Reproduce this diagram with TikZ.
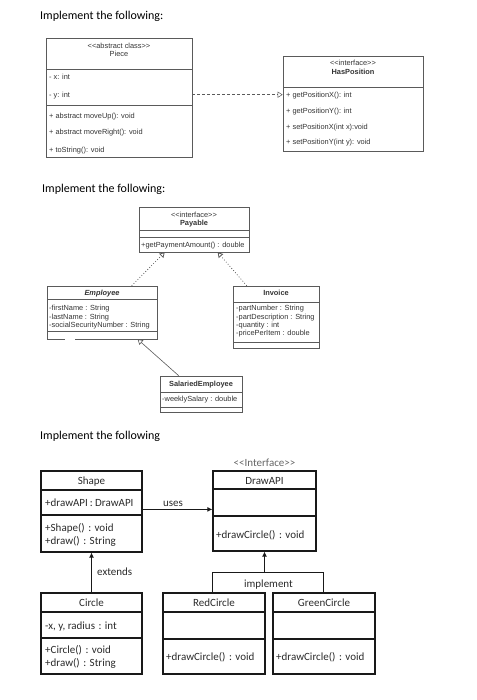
\documentclass[tikz,border=0pt]{standalone}
\usepackage{fontspec}
\setmainfont{Carlito}
\newfontfamily\arialf{Liberation Sans}
\usetikzlibrary{arrows.meta,fit}
\definecolor{gline}{HTML}{5A5A5A}
\definecolor{gtext}{HTML}{333333}
\definecolor{ctext}{HTML}{2A2A2A}
\newcommand\stL{<\kern0pt<}
\newcommand\stR{>\kern0pt>}
\tikzset{
  head/.style={font=\fontsize{12}{14}\selectfont, inner sep=0, anchor=base west, text=black},
  boxA/.style={draw=gline, line width=0.6pt, inner sep=0},
  divA/.style={draw=gline, line width=0.6pt},
  tA/.style={font=\arialf\fontsize{7.4}{8.5}\selectfont, text=gtext, inner sep=0, anchor=base west},
  tAc/.style={tA, anchor=base},
  tAb/.style={tA, anchor=base, font=\arialf\bfseries\fontsize{7.4}{8.5}\selectfont},
  boxC/.style={draw=black!90, line width=1.2pt, inner sep=0},
  divC/.style={draw=black!90, line width=1.2pt},
  tC/.style={font=\fontsize{11}{13}\selectfont, text=ctext, inner sep=0, anchor=base west},
  tCc/.style={tC, anchor=base},
  openarrow/.style={-{Triangle[open, length=5pt, width=6pt]}},
  fillarrow/.style={-{Latex[length=5pt, width=5pt]}}
}
\begin{document}
\begin{tikzpicture}[x=1pt,y=-1pt]
\useasboundingbox (0,0) rectangle (476,700);

% ================= Section 1 =================
\node[head] (h1) at (40,20) {Implement the following:};

\node[boxA, fit={(46,38) (192,157)}] (piece) {};
\draw[divA] (46,69) -- (192,69);
\draw[divA] (46,105) -- (192,105);
\node[tAc] (pst) at (119,48.5) {\stL abstract class\stR};
\node[tAc] (pname) at (119,57) {Piece};
\node[tA] (pa1) at (49,79.5) {- x: int};
\node[tA] (pa2) at (49,97.5) {- y: int};
\node[tA] (pm1) at (49,118.5) {+ abstract moveUp(): void};
\node[tA] (pm2) at (49,134.5) {+ abstract moveRight(): void};
\node[tA] (pm3) at (49,152.5) {+ toString(): void};

\node[boxA, fit={(283,56) (423,151)}] (haspos) {};
\draw[divA] (283,87) -- (423,87);
\node[tAc] (hst) at (353,65.5) {\stL interface\stR};
\node[tAb] (hname) at (353,74.5) {HasPosition};
\node[tA] (hm1) at (286,97.5) {+ getPositionX(): int};
\node[tA] (hm2) at (286,113.5) {+ getPositionY(): int};
\node[tA] (hm3) at (286,129.5) {+ setPositionX(int x):void};
\node[tA] (hm4) at (286,144.5) {+ setPositionY(int y): void};

\draw[gline, line width=0.5pt, densely dashed, openarrow]
  ([yshift=-57pt]piece.north east) -- ([yshift=-39pt]haspos.north west);

% ================= Section 2 =================
\node[head] (h2) at (42,193) {Implement the following:};

\node[boxA, fit={(139,207) (249,252)}] (payable) {};
\draw[divA] (139,230) -- (249,230);
\draw[divA] (139,237) -- (249,237);
\node[tAc] (pyst) at (194,217.5) {\stL interface\stR};
\node[tAb] (pyname) at (194,225.5) {Payable};
\node[tA] (pym) at (141,247.5) {+getPaymentAmount() : double};

\node[boxA, fit={(47,286) (157,339)}] (employee) {};
\draw[divA] (47,299) -- (157,299);
\draw[divA] (47,331) -- (157,331);
\fill[white] (65,337.5) rectangle (75,340.5);
\node[tAb, font=\arialf\bfseries\itshape\fontsize{7.4}{8.5}\selectfont] (ename) at (102,295.5) {Employee};
\node[tA] (ea1) at (49,310.5) {-firstName : String};
\node[tA] (ea2) at (49,319.5) {-lastName : String};
\node[tA] (ea3) at (49,327.5) {-socialSecurityNumber : String};

\node[boxA, fit={(233,286) (319,348)}] (invoice) {};
\draw[divA] (233,302) -- (319,302);
\draw[divA] (233,342) -- (319,342);
\node[tAb] (iname) at (276,295.5) {Invoice};
\node[tA] (ia1) at (236,310.5) {-partNumber : String};
\node[tA] (ia2) at (236,319.5) {-partDescription : String};
\node[tA] (ia3) at (236,327.5) {-quantity : int};
\node[tA] (ia4) at (236,335.5) {-pricePerItem : double};

\node[boxA, fit={(160,376) (242,412)}] (salaried) {};
\draw[divA] (160,392) -- (242,392);
\draw[divA] (160,407) -- (242,407);
\node[tAb] (sname) at (201,386.5) {SalariedEmployee};
\node[tA] (sa1) at (162,401.5) {-weeklySalary : double};

\draw[gline, line width=0.8pt, dotted, openarrow]
  ([xshift=85pt]employee.north west) -- ([xshift=26pt]payable.south west);
\draw[gline, line width=0.8pt, dotted, openarrow]
  ([xshift=14pt]invoice.north west) -- ([xshift=79pt]payable.south west);
\draw[gline, line width=0.6pt, openarrow]
  ([xshift=19pt]salaried.north west) -- ([xshift=91pt]employee.south west);

% ================= Section 3 =================
\node[head] (h3) at (40,439) {Implement the following};

\node[boxC, fit={(41,471) (142,552)}] (shape) {};
\draw[divC] (41,490) -- (142,490);
\draw[divC] (41,515) -- (142,515);
\node[tCc] (shname) at (91.5,484.5) {Shape};
\node[tC] (sha1) at (45,506.5) {+drawAPI\,: DrawAPI};
\node[tC] (shm1) at (45,531.5) {+Shape()\,\,: void};
\node[tC] (shm2) at (45,544.5) {+draw()\,\,: String};

\node[boxC, fit={(213,471) (316,551)}] (drawapi) {};
\draw[divC] (213,489) -- (316,489);
\draw[divC] (213,516) -- (316,516);
\node[tCc, text=black!60] (dast) at (264.5,466.5) {\stL Interface\stR};
\node[tCc] (daname) at (264.5,484.5) {DrawAPI};
\node[tC] (dam1) at (216,538.5) {+drawCircle()\,\,: void};

\draw[black!90, line width=1.2pt, fillarrow]
  ([yshift=-39pt]shape.north east) -- ([yshift=-39pt]drawapi.north west);
\node[tCc] (uses) at (173,506.5) {uses};

\node[boxC, fit={(41,593) (142,674)}] (circle) {};
\draw[divC] (41,612) -- (142,612);
\draw[divC] (41,638) -- (142,638);
\node[tCc] (cname) at (91.5,606.5) {Circle};
\node[tC] (ca1) at (45,629.5) {-x, y, radius\,\,: int};
\node[tC] (cm1) at (45,653.5) {+Circle()\,\,: void};
\node[tC] (cm2) at (45,666.5) {+draw()\,\,: String};

\draw[black!90, line width=1.2pt, fillarrow] (circle.north) -- (shape.south);
\node[tC] (ext) at (97,575.5) {extends};

\node[boxC, fit={(163,593) (265,674)}] (redc) {};
\draw[divC] (163,612) -- (265,612);
\draw[divC] (163,639) -- (265,639);
\node[tCc] (rname) at (214,606.5) {RedCircle};
\node[tC] (rm1) at (166,660.5) {+drawCircle()\,\,: void};

\node[boxC, fit={(273,593) (375,674)}] (greenc) {};
\draw[divC] (273,612) -- (375,612);
\draw[divC] (273,639) -- (375,639);
\node[tCc] (gname) at (324,606.5) {GreenCircle};
\node[tC] (gm1) at (276,660.5) {+drawCircle()\,\,: void};

\draw[black!90, line width=1.2pt]
  ([xshift=50pt]redc.north west) -- ++(0,-20) -| ([xshift=51pt]greenc.north west);
\node[tCc] (impl) at (268.5,587.5) {implement};
\coordinate (impltop) at (drawapi.south |- 0,573);
\draw[black!90, line width=1.2pt, fillarrow] (impltop) -- (drawapi.south);

\end{tikzpicture}
\end{document}
